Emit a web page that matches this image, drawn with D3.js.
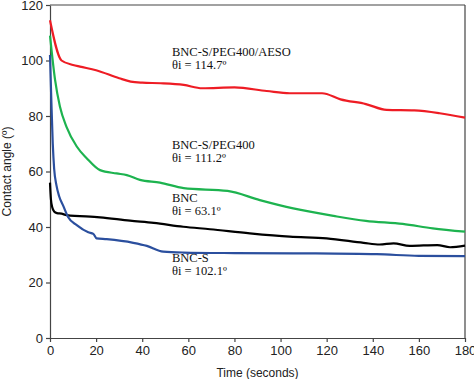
<!DOCTYPE html>
<html><head><meta charset="utf-8">
<script src="https://cdn.jsdelivr.net/npm/d3@7"></script>
<style>body{margin:0;background:#fff}</style>
</head><body>
<svg id="c" width="474" height="379"></svg>
<script>
const xTicks = [0,20,40,60,80,100,120,140,160,180];
const yTicks = [0,20,40,60,80,100,120];

const redT = [0,5,10,13,20,30,35,40,48,58,66,80,94,104,118,126,137,146,158,169,180];
const redV = [114.5,100,98.4,97.8,96.5,93.6,92.4,92,91.8,91.2,90,90.3,89,88.2,88.2,86,84.3,82.2,82,81,79.4];

const greenT = [0,2.2,4.3,7.2,11.6,15.9,21.7,28.9,33.3,39,47.7,58,77,91,105.5,123,137,153,166,180];
const greenV = [109,93,83.4,76,69,64.8,60.5,59.3,58.7,57,56,54,53,49.7,46.7,44,42.2,41.1,39.5,38.3];

const blackT = [0,0.4,1,1.8,3,5,7.2,21.7,34.7,45,57.8,69.4,86.7,104,120,136,143,149,156,168,173.5,180];
const blackV = [56,50,47,45.6,45,44.8,44.3,43.5,42.3,41.5,40.1,39.2,37.7,36.5,35.9,34.3,33.7,34.1,33.2,33.5,32.7,33.3];

const blueT = [0,0.6,1.2,1.8,2.8,4,5.8,7.9,11.6,16.6,18.8,20.2,24.6,36.1,42,49.1,57.8,80,110,141.7,160,180];
const blueV = [102,85,70,61,55,51,47.5,43.5,40.7,38.1,37.5,35.9,35.6,34.3,33.2,31.1,30.8,30.6,30.5,30.2,29.6,29.5];

const labels = [
  {name:"BNC-S/PEG400/AESO", theta:"θi = 114.7º", x:18, y:101.8},
  {name:"BNC-S/PEG400", theta:"θi = 111.2º", x:18, y:68},
  {name:"BNC", theta:"θi = 63.1º", x:18, y:49},
  {name:"BNC-S", theta:"θi = 102.1º", x:18, y:27.4}
];

const svg = d3.select("#c");
const m = {l:50, r:465, t:5, b:338};
const x = d3.scaleLinear().domain([0,180]).range([m.l,m.r]);
const y = d3.scaleLinear().domain([0,120]).range([m.b,m.t]);
const axisColor = "#444";

svg.append("line").attr("x1",m.l).attr("x2",m.r).attr("y1",m.t).attr("y2",m.t).attr("stroke",axisColor).attr("stroke-width",1.2);
svg.append("line").attr("x1",m.r).attr("x2",m.r).attr("y1",m.t).attr("y2",m.b).attr("stroke",axisColor).attr("stroke-width",1.2);

const gx = svg.append("g").attr("transform",`translate(0,${m.b})`)
  .call(d3.axisBottom(x).tickValues(xTicks).tickSize(4).tickSizeOuter(0).tickPadding(4));
const gy = svg.append("g").attr("transform",`translate(${m.l},0)`)
  .call(d3.axisLeft(y).tickValues(yTicks).tickSize(4).tickSizeOuter(0).tickPadding(3));
[gx,gy].forEach(g=>{
  g.selectAll("path,line").attr("stroke",axisColor).attr("stroke-width",1.2);
  g.selectAll("text").attr("font-family","Liberation Sans, Arial, sans-serif").attr("font-size",13).attr("fill","#222");
});

svg.append("text").attr("x",(m.l+m.r)/2).attr("y",377).attr("text-anchor","middle")
  .attr("font-family","Liberation Sans, Arial, sans-serif").attr("font-size",12).attr("fill","#222").text("Time (seconds)");
svg.append("text").attr("transform",`translate(11,${(m.t+m.b)/2}) rotate(-90)`).attr("text-anchor","middle")
  .attr("font-family","Liberation Sans, Arial, sans-serif").attr("font-size",12).attr("fill","#222").text("Contact angle (º)");

const series = [
  {t:blackT, v:blackV, c:"#000000"},
  {t:greenT, v:greenV, c:"#1db34f"},
  {t:blueT, v:blueV, c:"#2b4f9e"},
  {t:redT, v:redV, c:"#ee1c24"}
];
const line = d3.line().x(d=>x(d[0])).y(d=>y(d[1])).curve(d3.curveMonotoneX);
series.forEach(s=>{
  svg.append("path").datum(s.t.map((t,i)=>[t,s.v[i]]))
    .attr("d",line).attr("fill","none").attr("stroke",s.c).attr("stroke-width",2.2);
});

labels.forEach(l=>{
  const g = svg.append("text").attr("font-family","Liberation Serif, Times New Roman, serif").attr("font-size",12.5).attr("fill","#111");
  g.append("tspan").attr("x",172).attr("y",y(l.y)).text(l.name);
  g.append("tspan").attr("x",172).attr("y",y(l.y)+13).text(l.theta);
});
</script>
</body></html>
